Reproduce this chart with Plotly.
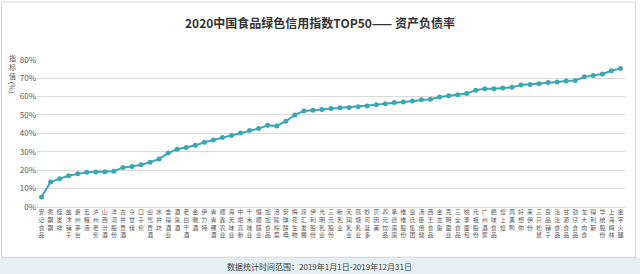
import plotly.graph_objects as go

title_text = "2020中国食品绿色信用指数TOP50—— 资产负债率"
footer_text = "数据统计时间范围：2019年1月1日-2019年12月31日"

companies = ["安记食品","香飘飘","桂发祥","盐津铺子","贵州茅台","五粮液","泸州老窖","山西汾酒","洋河股份","古井贡酒",
             "今世缘","口子窖","迎驾贡酒","水井坊","舍得酒业","酒鬼酒","老白干酒","金徽酒","伊力特","青青稞酒",
             "顺鑫农业","海天味业","中炬高新","千禾味业","恒顺醋业","加加食品","涪陵榨菜","安琪酵母","梅花生物","双汇发展",
             "伊利股份","光明乳业","三元股份","新乳业","天润乳业","燕塘乳业","妙可蓝多","贝因美","养元饮品","承德露露",
             "维维股份","皇氏集团","汤臣倍健","西王食品","金龙鱼","克明面业","三全食品","桃李面包","元祖股份","广州酒家",
             "绝味食品","煌上煌","周黑鸭","好想你","来伊份","三只松鼠","良品铺子","洽洽食品","甘源食品","劲仔食品",
             "龙大肉食","得利斯","华统股份","上海梅林","金字火腿"]

debt_ratio = [5.4, 13.6, 15.4, 17.0, 18.0, 18.9, 19.0, 19.1, 19.4, 21.5,
              22.0, 23.0, 24.3, 26.1, 29.3, 31.4, 32.3, 33.5, 35.2, 36.4,
              37.7, 38.8, 40.2, 41.5, 42.6, 44.4, 44.0, 46.6, 50.0, 52.2,
              52.6, 52.9, 53.5, 53.9, 54.1, 54.4, 54.9, 55.5, 56.1, 56.8,
              57.1, 57.6, 58.2, 58.5, 59.7, 60.4, 61.0, 61.6, 63.4, 64.3,
              64.3, 64.6, 65.0, 66.3, 66.6, 67.0, 67.6, 67.9, 68.5, 68.7,
              70.7, 71.4, 72.3, 74.0, 75.3]

y_ticks = [0, 10, 20, 30, 40, 50, 60, 70, 80]
y_tick_labels = ["0%", "10%", "20%", "30%", "40%", "50%", "60%", "70%", "80%"]

W, H = 640, 274
L, R, T, B = 37, 15, 58.5, 67.3
PW, PH = W - L - R, H - T - B

def px_x(px):
    return (px - L) / PW

def px_y(py):
    return (H - B - py) / PH

font_family = "Noto Sans CJK SC, Noto Sans, sans-serif"
line_color = "#3aa8b4"

stacked = ["<br>".join(list(n)) for n in companies]

fig = go.Figure()
fig.add_trace(go.Scatter(
    x=list(range(len(companies))), y=debt_ratio, mode="lines+markers",
    line=dict(color=line_color, width=2),
    marker=dict(color=line_color, size=5),
    hoverinfo="x+y"
))

shapes = [
    dict(type="rect", xref="paper", yref="paper", x0=px_x(0), x1=px_x(640), y0=px_y(274), y1=px_y(257),
         fillcolor="#e6f0f2", line=dict(width=0), layer="below"),
    dict(type="rect", xref="paper", yref="paper", x0=px_x(1.5), x1=px_x(635.5), y0=px_y(257), y1=px_y(1.5),
         fillcolor="rgba(0,0,0,0)", line=dict(color="#d6d6d6", width=1), layer="below"),
]

annotations = [
    dict(text="<b>" + title_text + "</b>", xref="paper", yref="paper", x=px_x(320), y=px_y(22),
         showarrow=False, xanchor="center", yanchor="middle",
         font=dict(family=font_family, size=12, color="#333333")),
    dict(text=footer_text, xref="paper", yref="paper", x=px_x(319), y=px_y(266.5),
         showarrow=False, xanchor="center", yanchor="middle",
         font=dict(family=font_family, size=8, color="#404040")),
    dict(text="指<br>标<br>值", xref="paper", yref="paper", x=px_x(12), y=px_y(67),
         showarrow=False, xanchor="center", yanchor="middle",
         font=dict(family=font_family, size=7, color="#595959")),
    dict(text="（%）", xref="paper", yref="paper", x=px_x(12), y=px_y(87),
         showarrow=False, xanchor="center", yanchor="middle", textangle=90,
         font=dict(family=font_family, size=7, color="#595959")),
]

fig.update_layout(
    width=W, height=H,
    margin=dict(l=L, r=R, t=T, b=B, pad=0),
    paper_bgcolor="white", plot_bgcolor="white",
    showlegend=False,
    shapes=shapes, annotations=annotations,
    font=dict(family=font_family),
    xaxis=dict(
        tickmode="array", tickvals=list(range(len(companies))), ticktext=stacked,
        range=[-0.5, len(companies) - 0.5], tickangle=0,
        tickfont=dict(family=font_family, size=6, color="#595959"),
        showgrid=False, zeroline=False, showline=False, ticks="",
    ),
    yaxis=dict(
        range=[0, 80.4], tickmode="array", tickvals=y_ticks, ticktext=y_tick_labels,
        tickfont=dict(family=font_family, size=8, color="#595959"),
        showgrid=True, gridcolor="#d9d9d9", gridwidth=1,
        zeroline=True, zerolinecolor="#d9d9d9", zerolinewidth=1,
        showline=False, ticks="",
    ),
)

fig.write_html("out.html")
